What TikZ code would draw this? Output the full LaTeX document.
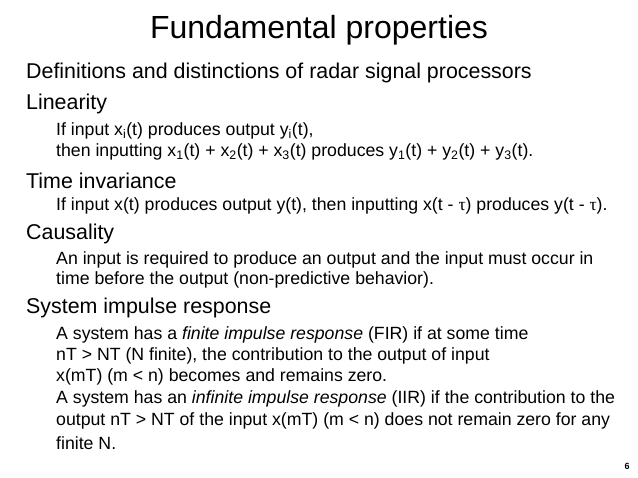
\documentclass[tikz,border=0pt]{standalone}
\usepackage{fontspec}
\setmainfont{Liberation Sans}
\newfontfamily\serifgr{Liberation Serif}
\begin{document}
\begin{tikzpicture}[x=1pt,y=1pt,
  hd/.style={anchor=west,inner sep=0,font=\fontsize{21.4}{24}\selectfont},
  bd/.style={anchor=west,inner sep=0,font=\fontsize{17.7}{19}\selectfont}]
\useasboundingbox (0,0) rectangle (638,-478);
\node[inner sep=0,font=\fontsize{32}{36}\selectfont] (title) at (319,-30) {Fundamental properties};
\node[hd] (def) at (26,-73) {Definitions and distinctions of radar signal processors};
\node[hd] (lin) at (26,-104) {Linearity};
\node[bd] (l1) at (56,-131) {If input x\textsubscript{i}(t) produces output y\textsubscript{i}(t),};
\node[bd] (l2) at (56,-152) {then inputting x\textsubscript{1}(t) + x\textsubscript{2}(t) + x\textsubscript{3}(t) produces y\textsubscript{1}(t) + y\textsubscript{2}(t) + y\textsubscript{3}(t).};
\node[hd] (ti) at (26,-181) {Time invariance};
\node[bd] (t1) at (56,-206) {If input x(t) produces output y(t), then inputting x(t - {\serifgr τ}) produces y(t - {\serifgr τ}).};
\node[hd] (ca) at (26,-234) {Causality};
\node[bd] (c1) at (56,-260) {An input is required to produce an output and the input must occur in};
\node[bd] (c2) at (56,-280) {time before the output (non-predictive behavior).};
\node[hd] (si) at (26,-308) {System impulse response};
\node[bd] (s1) at (56,-335) {A system has a \textit{finite impulse response} (FIR) if at some time};
\node[bd] (s2) at (56,-356) {nT > NT (N finite), the contribution to the output of input};
\node[bd] (s3) at (56,-377) {x(mT) (m < n) becomes and remains zero.};
\node[bd] (s4) at (56,-399) {A system has an \textit{infinite impulse response} (IIR) if the contribution to the};
\node[bd] (s5) at (56,-421) {output nT > NT of the input x(mT) (m < n) does not remain zero for any};
\node[bd] (s6) at (56,-443) {finite N.};
\node[inner sep=0,font=\fontsize{9}{10}\selectfont\bfseries] (pg) at (627,-466) {6};
\end{tikzpicture}
\end{document}
